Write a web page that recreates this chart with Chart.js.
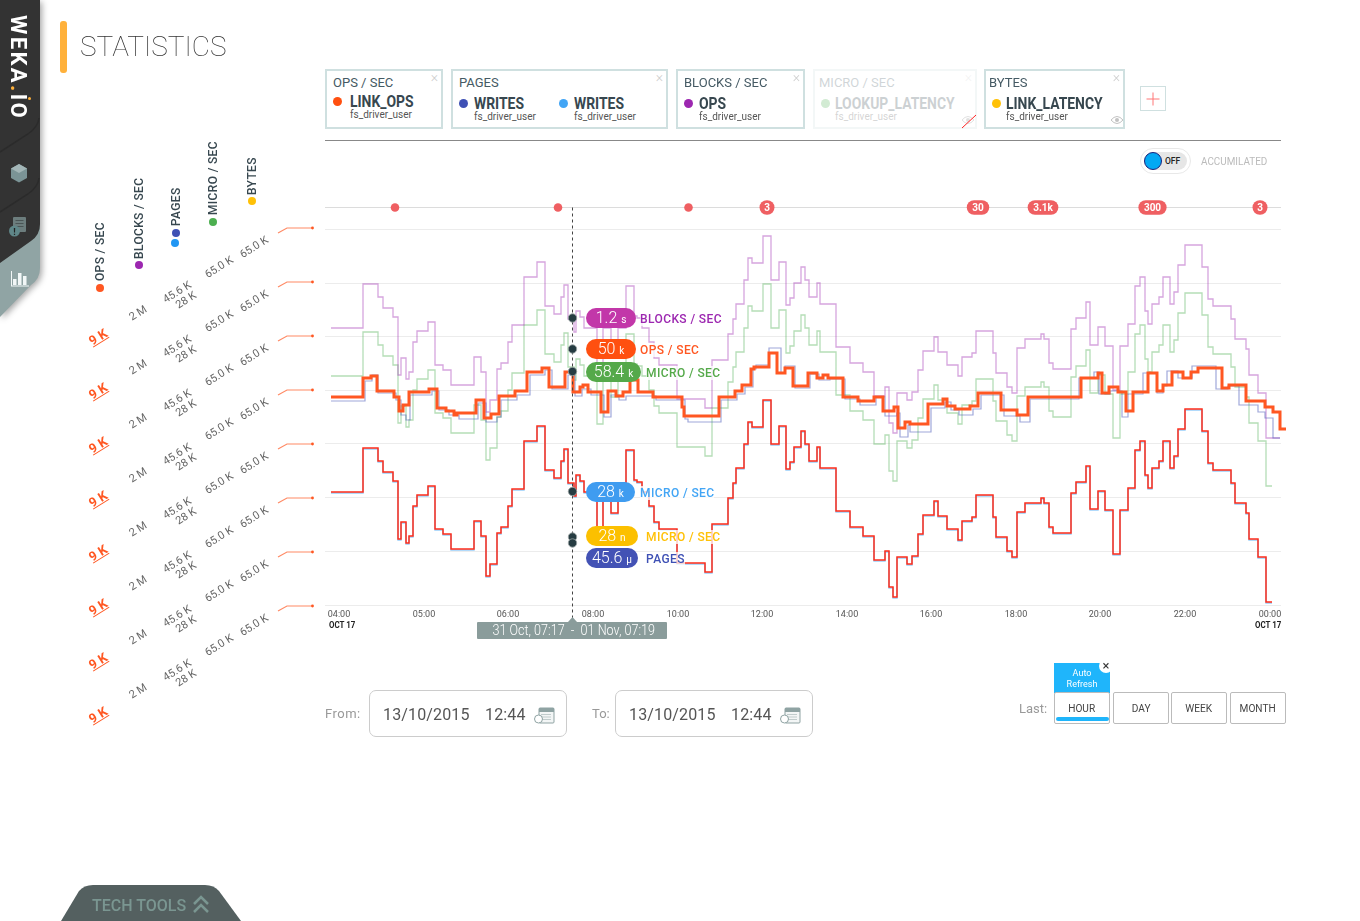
<!DOCTYPE html>
<html><head><meta charset="utf-8">
<script src="https://cdn.jsdelivr.net/npm/chart.js@4"></script>
<style>
html,body{margin:0;padding:0;background:#fff;width:1360px;height:921px;overflow:hidden;font-family:Roboto,sans-serif}
#c{position:absolute;left:0;top:0;width:1360px;height:921px}
.a{position:absolute;white-space:nowrap}
.rot{position:absolute;white-space:nowrap;transform:translate(-50%,-50%) rotate(-32deg);font-size:11px;color:#666}
.v{position:absolute;white-space:nowrap;transform-origin:0 0;transform:rotate(-90deg);font-size:12px;font-weight:500;letter-spacing:.35px;color:#37474f}
.d{position:absolute;border-radius:50%}
.card{position:absolute;top:69px;height:56px;border:2px solid #cfe0e0;background:#fff}
.card .t{position:absolute;top:4px;font-size:13px;color:#455a64}
.card .n{position:absolute;top:23px;font-size:16px;font-weight:700;color:#37474f;transform:scaleX(.87);transform-origin:0 50%}
.card .s{position:absolute;top:40px;font-size:10px;color:#555}
.card .x{position:absolute;top:-2px;right:3px;font-size:14px;color:#ccc;font-weight:300}
.pill{position:absolute;left:586px;height:20px;border-radius:10px;color:#fff;text-align:center;font-size:16px;line-height:20px;font-weight:300}
.pill small{font-size:10px;font-weight:400}
.plab{position:absolute;font-size:12px;font-weight:500;letter-spacing:.4px;background:rgba(255,255,255,.75);line-height:14px}
.inp{position:absolute;top:690px;width:196px;height:45px;border:1px solid #ccc;border-radius:7px;font-size:16px;color:#555;line-height:47px;letter-spacing:.15px}
.btn{position:absolute;top:692px;width:54px;height:30px;border:1.5px solid #bbb;border-radius:2px;text-align:center;font-size:11px;line-height:32px;color:#444}
.btn span{display:inline-block;transform:scaleX(.92)}
</style></head><body>
<canvas id="c" width="1360" height="921"></canvas>
<div id="ui"></div>
<script>
const tickLabels=['04:00','05:00','06:00','08:00','10:00','12:00','14:00','16:00','18:00','20:00','22:00','00:00'];
const tickPositions=[14,99,183,268,353,437,522,606,691,775,860,945];
const gridValues=[0,54,108,162,215,269,322,376,397.5];
const stepX=[6,38,53,58,68,73,76,81,84,88,92,103,110,118,126,149,156,161,165,172,176,183,187,199,212,220,229,236,239,243,249,251,255,259,272,278,286,293,301,309,312,317,324,329,334,352,380,387,403,408,411,419,423,427,438,446,454,461,465,469,476,480,484,492,495,511,525,538,549,560,564,568,572,582,587,593,598,609,613,622,633,637,647,651,668,671,682,687,692,700,716,719,724,728,746,751,761,765,773,780,788,795,803,810,815,820,823,827,834,838,845,849,853,860,877,883,888,906,910,921,924,933,941,947];
const bytesLatency=[113,157,144,133,124,66,83,62,69,99,110,119,76,71,56,84,69,29,41,72,78,99,116,164,179,135,127,144,156,122,109,130,124,113,65,113,92,113,155,125,123,113,99,83,76,42,33,81,107,122,137,161,183,178,205,161,179,136,143,158,174,161,144,158,137,94,78,69,45,54,18,8,48,41,49,71,90,104,89,76,65,84,88,110,88,68,54,48,93,102,107,102,78,72,112,123,139,96,114,95,51,95,117,155,164,130,117,137,144,164,137,149,176,196,174,142,135,122,102,92,66,48,3,3];
const pagesLight=[112,156,143,132,123,65,82,61,68,98,109,118,75,70,55,83,68,28,40,71,77,98,115,163,178,134,126,143,155,121,108,129,123,112,64,112,91,112,154,124,122,112,98,82,75,41,32,80,106,121,136,160,182,177,204,160,178,135,142,157,173,160,143,157,136,93,77,68,44,53,17,7,47,40,48,70,89,103,88,75,64,83,87,109,87,67,53,47,92,101,106,101,77,71,111,122,138,95,113,94,50,94,116,154,163,129,116,136,143,163,136,148,175,195,173,141,134,121,101,91,65,47,2,2];
const microLatency=[229,273,260,249,240,182,199,178,185,215,226,235,192,187,172,200,185,145,157,188,194,215,232,280,295,251,243,260,272,238,225,246,240,229,181,229,208,229,271,241,239,229,215,199,192,158,149,197,223,238,253,277,299,294,321,277,295,252,259,274,290,277,260,274,253,210,194,185,161,170,134,124,164,157,165,187,206,220,205,192,181,200,204,226,204,184,170,164,209,218,223,218,194,188,228,239,255,212,230,211,167,211,233,271,280,246,233,253,260,280,253,265,292,312,290,258,251,238,218,208,182,164,119,119];
const blocksOpsX=[6,38,53,58,68,73,76,81,84,88,92,103,110,118,126,149,156,161,165,172,176,183,187,199,212,220,229,236,239,243,249,251,255,259,272,278,286,293,301,309,312,317,324,329,334,352,380,387,403,408,411,419,423,427,438,446,454,461,465,469,476,480,484,492,495,511,525,538,549,560,564,568,572,582,587,593,598,609,613,622,633,637,647,651,668,671,682,687,692,700,716,719,724,728,746,751,761,765,773,780,788,795,803,810,815,820,823,827,834,838,845,849,853,860,877,883,888,906,910,921,924,933,941,955];
const blocksOps=[277,321,308,297,288,230,247,226,233,263,274,283,240,235,220,248,233,193,205,236,242,263,280,328,343,299,291,308,320,286,273,294,288,277,229,277,256,277,319,289,287,277,263,247,240,206,197,245,271,286,301,325,347,342,369,325,343,300,307,322,338,325,308,322,301,258,242,233,209,218,182,172,212,205,213,235,254,268,253,240,229,248,252,274,252,232,218,212,257,266,271,266,242,236,276,287,303,260,278,259,215,259,281,319,328,294,281,301,308,328,301,313,340,360,338,306,299,286,266,256,230,212,167,167];
const opsX=[6,38,46,52,69,74,78,84,104,112,121,129,132,151,159,166,174,190,202,217,224,240,248,255,258,263,276,283,291,298,305,313,328,357,359,394,410,417,426,429,444,452,460,468,483,492,498,503,518,533,549,558,569,573,580,585,603,618,622,630,645,653,676,692,703,756,773,777,784,793,801,808,823,832,838,847,858,866,873,897,904,921,940,948,955,961];
const linkOps=[208,227,229,214,208,194,200,213,216,197,194,190,192,205,187,191,209,214,233,237,218,233,213,218,220,213,193,214,209,213,225,213,208,198,189,208,214,220,236,238,252,232,237,219,232,227,230,227,208,204,208,194,198,177,183,181,201,206,199,196,199,212,195,190,208,227,232,212,218,213,194,213,232,214,220,233,227,233,237,217,220,204,198,193,176,176];
const writesX=[6,40,47,53,71,76,81,85,107,114,124,134,153,161,172,176,192,205,220,227,243,250,257,266,279,286,294,301,331,360,363,396,412,420,428,431,444,456,460,470,485,494,505,520,535,551,560,572,575,583,585,606,620,626,634,648,656,679,695,705,754,769,774,785,797,803,818,832,838,842,853,867,891,903,914,933,940,948,955];
const writes=[204,224,230,212,205,190,185,210,214,195,190,186,202,183,188,205,210,230,235,216,230,209,216,210,188,210,205,209,205,186,183,205,211,218,236,240,257,232,239,217,231,225,226,206,200,208,189,192,168,180,173,197,203,195,190,196,210,189,183,206,227,233,211,214,188,211,232,212,219,234,227,239,216,219,200,193,187,167,167];
const eventX=[70,233,363.5,442,653,718,827.5,935];
const eventLabels=['','','','3','30','3.1k','300','3'];
const cursorX=[247.5,247.5];
const cursorY=[397.5,-17];
const hoverY=[287,256,233.5,113.5,68,62];
const rowNine=['9 K','9 K','9 K','9 K','9 K','9 K','9 K','9 K'];
const axisNames=['OPS / SEC','BLOCKS / SEC','PAGES','MICRO / SEC','BYTES'];
const rotOps='9 K',rotBlocks='2 M',rotPages='45.6 K',rotPages2='28 K',rotMicro='65.0 K',rotBytes='65.0 K';

const zip=(x,y)=>x.map((v,i)=>({x:v,y:y[i]}));
const stepLine=(label,x,y,color,w,order)=>({type:'line',label,data:zip(x,y),borderColor:color,borderWidth:w,stepped:true,pointRadius:0,fill:false,order,clip:false,borderJoinStyle:'miter',borderCapStyle:'butt'});
const eventPlugin={id:'events',afterDatasetsDraw(ch){
  const {ctx,scales:{x,y}}=ch;const py=y.getPixelForValue(397.5);
  ctx.save();ctx.font='700 10px Roboto';ctx.textAlign='center';ctx.textBaseline='middle';
  eventX.forEach((v,i)=>{const px=x.getPixelForValue(v),t=eventLabels[i];ctx.fillStyle='#ef5f62';
    if(!t){ctx.beginPath();ctx.arc(px,py,4.3,0,7);ctx.fill();return;}
    const hw=t.length===1?0:Math.max(ctx.measureText(t).width/2-2,1);
    ctx.beginPath();ctx.roundRect(px-hw-7.5,py-7.3,2*hw+15,14.6,7.3);ctx.fill();
    ctx.fillStyle='#fff';ctx.fillText(t,px,py+.5);});
  ctx.restore();}};
new Chart(document.getElementById('c'),{
  data:{datasets:[
    stepLine('OPS / SEC LINK_OPS',opsX,linkOps,'#ff5722',3,1),
    stepLine('BYTES LINK_LATENCY',stepX,bytesLatency,'#ff2d1a',1.5,2),
    stepLine('PAGES WRITES',stepX,pagesLight,'rgba(66,165,245,.55)',1.4,3),
    stepLine('PAGES WRITES',writesX,writes,'rgba(63,81,181,.5)',1.2,4),
    stepLine('BLOCKS / SEC OPS',blocksOpsX,blocksOps,'rgba(156,39,176,.42)',1.3,5),
    stepLine('MICRO / SEC LOOKUP_LATENCY',stepX,microLatency,'rgba(76,175,80,.42)',1.3,6),
    {type:'line',label:'cursor',data:zip(cursorX,cursorY),borderColor:'#444',borderWidth:1,borderDash:[3,3],pointRadius:0,clip:false,order:0},
    {type:'scatter',label:'hover',data:hoverY.map(v=>({x:cursorX[0],y:v})),pointRadius:4.2,pointBackgroundColor:'#263c42',pointBorderColor:'rgba(150,160,160,.85)',pointBorderWidth:1,clip:false,order:-1}
  ]},
  options:{responsive:false,animation:false,devicePixelRatio:1,
    layout:{padding:{left:325,right:79,top:207,bottom:296}},
    plugins:{legend:{display:false},tooltip:{enabled:false}},
    scales:{
      x:{type:'linear',min:0,max:956,afterFit(s){s.height=20},afterBuildTicks(s){s.ticks=tickPositions.map(value=>({value}))},
        grid:{display:false},border:{display:false},
        ticks:{autoSkip:false,maxRotation:0,padding:-4,font:{family:'Roboto',size:9},color:'#555',callback:(v,i)=>tickLabels[i]}},
      y:{type:'linear',min:0,max:398,afterFit(s){s.width=0},afterBuildTicks(s){s.ticks=gridValues.map(value=>({value}))},
        border:{display:false},ticks:{display:false},
        grid:{drawTicks:false,lineWidth:1,color:c=>c.tick&&c.tick.value>390?'#dcdcdc':'#ececec'}}
    }},
  plugins:[eventPlugin]
});

const ui=document.getElementById('ui');let h='';
const a=(x,y,txt,st='')=>{h+=`<div class="a" style="left:${x}px;top:${y}px;${st}">${txt}</div>`};
const dot=(x,y,r,c)=>{h+=`<div class="d" style="left:${x-r}px;top:${y-r}px;width:${2*r}px;height:${2*r}px;background:${c}"></div>`};
// sidebar
h+=`<svg class="a" style="left:0;top:0;filter:drop-shadow(2px 2px 3px rgba(0,0,0,.35))" width="60" height="330">
<path d="M0 0H40V268Q40 279 31 285L0 317Z" fill="#90a4a4"/>
<path d="M0 0H40V224Q40 235 31 241L0 263Z" fill="#333"/>
<path d="M0 152L28 134Q38 127 39 118" fill="none" stroke="#2b2b2b" stroke-width="1.5"/>
<path d="M0 212L28 194Q38 187 39 178" fill="none" stroke="#2b2b2b" stroke-width="1.5"/>
<path d="M19 164L27 168.5V178L19 182.5L11 178V168.5Z" fill="#7b9496"/><path d="M19 164L27 168.5L19 173L11 168.5Z" fill="#a3b6b7"/>
<rect x="13" y="217" width="13" height="15" rx="1" fill="#6c7d7d"/><path d="M15.5 220.5h8M15.5 223.5h8M15.5 226.5h8" stroke="#4a5555" stroke-width="1"/><circle cx="14.5" cy="231" r="5.5" fill="#5f8688"/><text x="14.5" y="234.5" font-size="9" font-weight="700" text-anchor="middle" fill="#222">!</text>
<g fill="#f2f7f7"><rect x="13" y="279" width="3.5" height="6"/><rect x="18" y="273" width="3.5" height="12"/><rect x="23" y="276" width="3.5" height="9"/><path d="M11 271h1v14.5h17v1H11z"/></g>
</svg>`;
a(8,14,'WEKA<span style="color:#ffb13b">.</span>IO','font-size:22px;font-weight:700;color:#fff;letter-spacing:2.4px;transform-origin:0 0;transform:rotate(90deg);left:30px;top:15px;line-height:24px');
dot(29.5,98.5,1.8,'#ffb13b');
// title
h+=`<div class="a" style="left:60px;top:21px;width:7px;height:52px;background:#ffb13b;border-radius:3px"></div>`;
a(80,30,'STATISTICS','font-size:28px;font-weight:100;color:#333;line-height:34px');
// axis names
[[93,281,0,288,'#ff5722',0],[132,259,1,265,'#9c27b0',0],[169,226,2,233,'#3f51b5',0],[206,215,3,222,'#4caf50',0],[245,195,4,201,'#ffc107',0]].forEach(r=>{
  h+=`<div class="v" style="left:${r[0]}px;top:${r[1]}px">${axisNames[r[2]]}</div>`;dot(r[0]+6.5,r[3],4,r[4]);});
dot(175,243,4,'#2196f3');
// rotated
rowNine.forEach((t,i)=>{const s=54*i;
 h+=`<div class="rot" style="left:97.5px;top:${337+s}px;color:#ff5722;font-weight:700;font-size:13px;text-decoration:underline">${rotOps}</div>`;
 h+=`<div class="rot" style="left:138px;top:${313+s}px">${rotBlocks}</div>`;
 h+=`<div class="rot" style="left:176.5px;top:${292+s}px">${rotPages}</div>`;
 h+=`<div class="rot" style="left:186px;top:${300+s}px">${rotPages2}</div>`;
 h+=`<div class="rot" style="left:219px;top:${267+s}px">${rotMicro}</div>`;
 h+=`<div class="rot" style="left:254px;top:${247+s}px">${rotBytes}</div>`;
 const y=228+s;
 h+=`<svg class="a" style="left:276px;top:${y-3}px" width="40" height="10"><path d="M2 8L11 3H36" fill="none" stroke="#ff8a65" stroke-width="1.2"/><circle cx="36.5" cy="3" r="1.4" fill="#ff5722"/></svg>`;
});
// cards
const card=(x,w,title,items,extra='')=>{
 h+=`<div class="card" style="left:${x}px;width:${w-4}px;${extra}"><div class="t" style="left:${title[1]-1}px">${title[0]}</div><div class="x">×</div>`;
 items.forEach(it=>{h+=`<div class="d" style="left:${it[0]-5}px;top:${it[4]?26:28}px;width:9px;height:9px;background:${it[1]}"></div><div class="n" style="left:${it[2]-1}px;${it[4]?'top:21px':''}">${it[3]}</div><div class="s" style="left:${it[2]-1}px;${it[4]?'top:38px':''}">fs_driver_user</div>`;});
 h+='</div>';};
card(325,118,['OPS / SEC',7],[[11,'#ff5010',24,'LINK_OPS',1]]);
card(451,217,['PAGES',7],[[11,'#3f51b5',22,'WRITES'],[111,'#42a5f5',122,'WRITES']]);
card(676,129,['BLOCKS / SEC',7],[[11,'#9c27b0',22,'OPS']]);
card(813,164,['MICRO / SEC',5],[[11,'#4caf50',21,'LOOKUP_LATENCY']],'opacity:.25');
card(984,141,['BYTES',4],[[11,'#ffc107',21,'LINK_LATENCY']]);
const eye=(x,y,o)=>`<svg class="a" style="left:${x}px;top:${y}px;opacity:${o}" width="14" height="10"><path d="M1 5Q7 -2 13 5Q7 12 1 5Z" fill="none" stroke="#999"/><circle cx="7" cy="5" r="2" fill="#999"/></svg>`;
h+=eye(961,115,.3)+eye(1110,115,.6);
h+=`<svg class="a" style="left:960px;top:113px" width="18" height="16"><path d="M2 15L16 2" stroke="#f22" stroke-width="1"/></svg>`;
h+=`<div class="a" style="left:1140px;top:86px;width:24px;height:23px;border:1.5px solid #cfe0e0"></div><svg class="a" style="left:1140px;top:86px" width="26" height="26"><path d="M13 6.5V19.5M6.5 13H19.5" stroke="#f77" stroke-width="1"/></svg>`;
h+=`<div class="a" style="left:325px;top:140px;width:956px;height:1px;background:#888"></div>`;
// toggle
h+=`<div class="a" style="left:1140px;top:148px;width:51px;height:26px;border-radius:13px;background:#fff;border:1px solid #e8e8e8;box-sizing:border-box"></div>
<div class="a" style="left:1144px;top:152px;width:43px;height:18px;border-radius:9px;background:#e6e6e6"></div>
<div class="d" style="left:1144px;top:152px;width:16px;height:16px;background:#03a9f4;border:1px solid #1a237e"></div>`;
a(1165,156,'OFF','font-size:8.5px;font-weight:500;color:#222');
a(1201,155,'ACCUMILATED','font-size:11px;color:#bbb;transform:scaleX(.9);transform-origin:0 0');
// pills
const pill=(y,w,c,t,u,lx,lab,lc)=>{h+=`<div class="pill" style="top:${y}px;width:${w}px;background:${c}">${t} <small>${u}</small></div><div class="plab" style="left:${lx}px;top:${y+4}px;color:${lc}">${lab}</div>`};
pill(308,50,'#c237a9','1.2','s',640,'BLOCKS / SEC','#9c27b0');
pill(339,50,'#ff5010','50','k',640,'OPS / SEC','#ff5722');
pill(362,55,'#55a94a','58.4','k',646,'MICRO / SEC','#55a94a');
pill(482,49,'#3f9cf0','28','k',640,'MICRO / SEC','#42a5f5');
pill(526,52,'#fcc000','28','n',646,'MICRO / SEC','#ffc107');
pill(548,52,'#4352b5','45.6','µ',646,'PAGES','#3f51b5');
// x labels extra
a(329,620,'OCT 17','font-size:9px;font-weight:700;color:#222;transform:scaleX(.88);transform-origin:0 0');
a(1255,620,'OCT 17','font-size:9px;font-weight:700;color:#222;transform:scaleX(.88);transform-origin:0 0');
// range tooltip
h+=`<div class="a" style="left:477px;top:622px;width:190px;height:17px;background:#8a9c9b;border-radius:1px;color:#fff;text-align:center;font-size:15px;line-height:17px;font-weight:300"><span style="display:inline-block;transform:scaleX(.84)">31 Oct, 07:17 &nbsp;-&nbsp; 01 Nov, 07:19</span></div>`;
h+=`<svg class="a" style="left:568px;top:617px" width="9" height="5"><path d="M0 5L4.5 0L9 5Z" fill="#8a9c9b"/></svg>`;
// date
a(325,706,'From:','font-size:13px;color:#999;letter-spacing:.5px');
a(592,706,'To:','font-size:13px;color:#999');
const cal=x=>`<svg class="a" style="left:${x}px;top:705px" width="22" height="20"><rect x="6" y="3" width="15" height="15" rx="1" fill="#f3f6f6" stroke="#8fa3a3"/><rect x="6" y="3" width="15" height="4" fill="#8fa3a3"/><path d="M8.5 9.5h10M8.5 12h10M8.5 14.5h10" stroke="#8fa3a3" stroke-dasharray="1 1"/><circle cx="5.5" cy="14" r="4" fill="#fff" stroke="#8fa3a3"/></svg>`;
[369,615].forEach(x=>{h+=`<div class="inp" style="left:${x}px"><span style="position:absolute;left:13px">13/10/2015</span><span style="position:absolute;left:115px">12:44</span></div>`+cal(x+164);});
// last
a(1019,701,'Last:','font-size:13px;color:#999');
h+=`<div class="a" style="left:1054px;top:663px;width:56px;height:30px;background:#1fb5fb;color:#fff;font-size:9px;line-height:11px;text-align:center"><div style="padding-top:5px">Auto<br>Refresh</div></div>`;
h+=`<div class="d" style="left:1099px;top:659px;width:14px;height:14px;background:#fff;color:#333;font-size:13px;line-height:13px;text-align:center">×</div>`;
[[1054,'HOUR'],[1113,'DAY'],[1171,'WEEK'],[1230,'MONTH']].forEach(b=>{h+=`<div class="btn" style="left:${b[0]}px"><span>${b[1]}</span></div>`});
h+=`<div class="a" style="left:1056px;top:717px;width:53px;height:4px;background:#1fb5fb;border-radius:2px"></div>`;
// tech tools
h+=`<svg class="a" style="left:55px;top:880px" width="195" height="41"><path d="M6 41L24 11Q29 5 38 5H150Q159 5 164 11L186 41Z" fill="#546060"/><path d="M139 24L146 17L153 24M139 32L146 25L153 32" fill="none" stroke="#7a9691" stroke-width="2.5"/></svg>`;
a(92,896,'TECH TOOLS','font-size:16px;font-weight:500;color:#7a9691');
ui.innerHTML=h;
</script>
</body></html>
